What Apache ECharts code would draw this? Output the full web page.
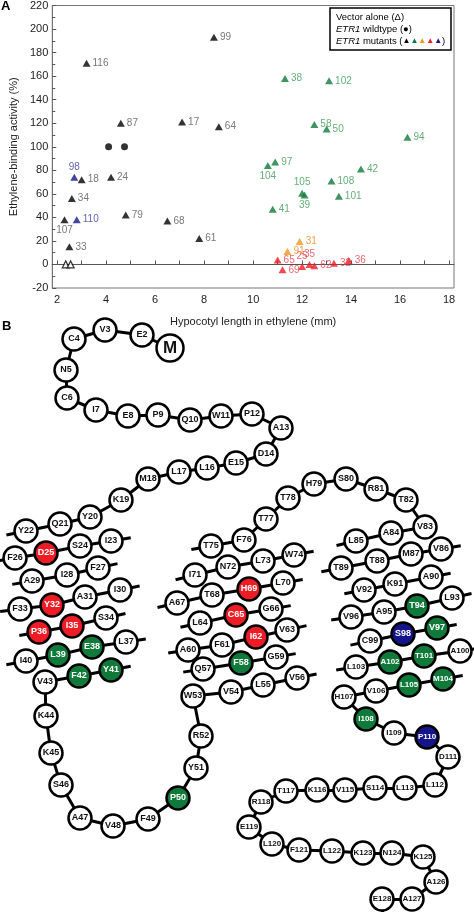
<!DOCTYPE html>
<html>
<head>
<meta charset="utf-8">
<script src="https://cdn.jsdelivr.net/npm/echarts@6/dist/echarts.min.js"></script>
<style>
  html, body { margin: 0; padding: 0; background: #fff; }
  #main { width: 474px; height: 912px; }
</style>
</head>
<body>
<div id="main"></div>
<script>
// ---- panel A data: [hypocotyl length, binding %, label, label position]
var blackPts = [[3.2,171,'116','right'],[8.4,193,'99','right'],[4.6,120,'87','right'],[7.1,121,'17','right'],
  [8.6,117,'64','right'],[3.0,72,'18','right'],[4.2,74,'24','right'],[2.6,56,'34','right'],[4.8,42,'79','right'],
  [6.5,37,'68','right'],[2.3,38,'107','bottom'],[7.8,22,'61','right'],[2.5,15,'33','right']];
var bluePts = [[2.7,74,'98','top'],[2.8,38,'110','right']];
var greenPts = [[11.3,158,'38','right'],[13.1,156,'102','right'],[12.5,119,'58','right'],[13.0,115,'50','right'],
  [16.3,108,'94','right'],[10.9,87,'97','right'],[10.6,84,'104','bottom'],[14.4,81,'42','right'],
  [13.2,71,'108','right'],[12.0,60.5,'105','top'],[12.1,59,'39','bottom'],[13.5,58,'101','right'],[10.8,47,'41','right']];
var orangePts = [[11.9,19.5,'31','right'],[11.4,11,'91','right']];
var redPts = [[11.0,3.7,'65','right'],[11.2,-4.5,'69','right'],[12.0,-1.7,'25','top'],[12.3,0,'35','top'],
  [12.5,-1,'62','right'],[13.3,1,'32','right'],[13.9,3.4,'36','right']];
var wildtypePts = [[4.1,100],[4.75,100]];
var vectorPts = [[2.35,0],[2.55,0]];

// ---- panel B data: ETR1 residues 1-128, positions in diagram units
var sequence = 'MEVCNCIEPQWPADELLMKYQYISDFFIAIAYFSIPLELIYFVKKSAVFPYRWVLVQFGAFIVLCGATHLINLWTFTTHSRTVALVMTTAKVLTAVVSCATALMLVHIIPDLLSVKTRELFLKNKAAE';
var resX = [170,142,105,74,66,67,96,128,158,190,221,252,281,266,236,207,179,148,121,90,60,26,111,80,46,15,98,67,32,120,
  85,52,20,106,72,39,126,92,58,26,111,79,45,46,51,61,80,113,148,178,196,201,193,231,263,297,203,241,276,188,
  222,256,287,200,236,271,177,212,249,283,195,228,263,294,211,244,266,288,314,346,376,406,425,391,356,441,411,377,341,431,
  395,364,452,417,384,351,437,403,370,460,424,390,356,443,409,376,344,366,394,427,448,435,405,375,345,317,286,261,249,272,
  299,332,363,392,423,436,412,382];
var resY = [348,335,330,339,370,398,410,416,415,420,416,414,428,454,463,468,472,479,500,517,524,531,541,546,553,558,568,575,581,590,
  597,605,609,618,626,632,642,647,655,661,670,676,682,716,753,785,818,826,819,798,768,736,696,692,685,678,669,663,657,650,
  645,637,630,623,615,609,603,595,589,583,575,567,561,555,546,540,519,498,484,479,489,500,527,533,541,549,554,561,568,577,
  584,590,598,606,612,617,628,634,641,651,656,662,667,679,685,691,697,719,733,737,757,785,788,788,790,790,791,802,827,844,
  850,851,853,853,857,882,899,899];
var redRes = [25,32,35,36,62,65,69];
var greenRes = [38,39,41,42,50,58,94,97,101,102,104,105,108];
var blueRes = [98,110];
// chain breaks between helix rows (chain passes behind the membrane face)
var breaks = [[22,23],[26,27],[29,30],[33,34],[36,37],[40,41],
  [56,57],[59,60],[63,64],[66,67],[70,71],[74,75],
  [85,86],[89,90],[92,93],[96,97],[99,100],[103,104]];
var tailEnd = [382,912];

var RED = '#ee1c24', GREEN = '#0f7a3a', BLUE = '#15158a', ORANGE = '#f7941d';

function pts(list, labelColor) {
  return list.map(function (p) {
    return { value: [p[0], p[1]], label: { show: true, formatter: p[2], position: p[3], distance: 2, color: labelColor } };
  });
}

// residues
var residues = [];
for (var i = 0; i < resX.length; i++) {
  var n = i + 1, fill = '#fff', tc = '#111';
  if (redRes.indexOf(n) >= 0) { fill = RED; tc = '#fff'; }
  if (greenRes.indexOf(n) >= 0) { fill = GREEN; tc = '#fff'; }
  if (blueRes.indexOf(n) >= 0) { fill = BLUE; tc = '#fff'; }
  var name = n === 1 ? 'M' : sequence[i] + n;
  residues.push({
    value: [resX[i], resY[i]],
    symbolSize: n === 1 ? 27 : 23,
    itemStyle: { color: fill },
    label: { formatter: name, color: tc, fontSize: n === 1 ? 17 : (n >= 100 ? 8 : 9) }
  });
}

// backbone links + stubs
var isBreak = function (a) { return breaks.some(function (b) { return b[0] === a; }); };
var links = [];
for (var i = 1; i < resX.length; i++) {
  if (!isBreak(i)) links.push({ coords: [[resX[i - 1], resY[i - 1]], [resX[i], resY[i]]] });
}
function stub(a, ref) {
  var dx = resX[a - 1] - resX[ref - 1], dy = resY[a - 1] - resY[ref - 1];
  var l = Math.sqrt(dx * dx + dy * dy);
  return { coords: [[resX[a - 1], resY[a - 1]], [resX[a - 1] + dx / l * 20, resY[a - 1] + dy / l * 20]] };
}
breaks.forEach(function (b) {
  links.push(stub(b[0], b[0] - 1));
  links.push(stub(b[1], b[1] + 1));
});
links.push({ coords: [[resX[127], resY[127]], tailEnd] });

var chart = echarts.init(document.getElementById('main'));
var tri = 'path://M0,10 L5,0 L10,10 Z';
var font = 'Liberation Sans, Arial, sans-serif';

chart.setOption({
  animation: false,
  textStyle: { fontFamily: font },
  grid: [
    { left: 38, right: 20, top: 4, height: 284, show: true, borderColor: '#777', borderWidth: 1 },
    { left: 0, right: 0, top: 320, bottom: 0 }
  ],
  xAxis: [
    { gridIndex: 0, type: 'value', min: 1.8, max: 18.2,
      name: 'Hypocotyl length in ethylene (mm)', nameLocation: 'middle', nameGap: 28,
      nameTextStyle: { fontSize: 11, color: '#222' },
      axisLine: { onZero: true, lineStyle: { color: '#555' } },
      axisTick: { inside: true, length: 4, customValues: [2,3,4,5,6,7,8,9,10,11,12,13,14,15,16,17,18], lineStyle: { color: '#555' } },
      axisLabel: { customValues: [2,4,6,8,10,12,14,16,18], fontSize: 11, color: '#222', margin: 6 },
      splitLine: { show: false } },
    { gridIndex: 1, type: 'value', min: 0, max: 474, show: false }
  ],
  yAxis: [
    { gridIndex: 0, type: 'value', min: -20, max: 220, interval: 20,
      name: 'Ethylene-binding activity (%)', nameLocation: 'middle', nameGap: 27, nameRotate: 90,
      nameTextStyle: { fontSize: 11, color: '#222' },
      axisLine: { show: true, lineStyle: { color: '#777' } },
      axisTick: { inside: true, length: 4, lineStyle: { color: '#555' } },
      minorTick: { show: true, splitNumber: 2, length: 3, lineStyle: { color: '#555' } },
      axisLabel: { fontSize: 11, color: '#222', margin: 4 },
      splitLine: { show: false } },
    { gridIndex: 1, type: 'value', min: 320, max: 912, inverse: true, show: false }
  ],
  series: [
    { type: 'scatter', xAxisIndex: 0, yAxisIndex: 0, symbol: tri, symbolSize: [8, 7],
      itemStyle: { color: '#000' }, label: { fontSize: 10 }, data: pts(blackPts, '#555') },
    { type: 'scatter', xAxisIndex: 0, yAxisIndex: 0, symbol: tri, symbolSize: [8, 7],
      itemStyle: { color: BLUE }, label: { fontSize: 10 }, data: pts(bluePts, '#3a3aa0') },
    { type: 'scatter', xAxisIndex: 0, yAxisIndex: 0, symbol: tri, symbolSize: [8, 7],
      itemStyle: { color: GREEN }, label: { fontSize: 10 }, data: pts(greenPts, '#3d9a55') },
    { type: 'scatter', xAxisIndex: 0, yAxisIndex: 0, symbol: tri, symbolSize: [8, 7],
      itemStyle: { color: ORANGE }, label: { fontSize: 10 }, data: pts(orangePts, '#f08a20') },
    { type: 'scatter', xAxisIndex: 0, yAxisIndex: 0, symbol: tri, symbolSize: [8, 7],
      itemStyle: { color: RED }, label: { fontSize: 10 }, data: pts(redPts, '#e8404a') },
    { type: 'scatter', xAxisIndex: 0, yAxisIndex: 0, symbol: 'circle', symbolSize: 7,
      itemStyle: { color: '#000' }, data: wildtypePts },
    { type: 'scatter', xAxisIndex: 0, yAxisIndex: 0, symbol: tri, symbolSize: [7, 7],
      itemStyle: { color: '#fff', borderColor: '#000', borderWidth: 1.2 }, data: vectorPts },
    { type: 'lines', coordinateSystem: 'cartesian2d', xAxisIndex: 1, yAxisIndex: 1, z: 1,
      lineStyle: { color: '#000', width: 3, opacity: 1 }, data: links },
    { type: 'scatter', xAxisIndex: 1, yAxisIndex: 1, z: 3, symbol: 'circle',
      itemStyle: { borderColor: '#000', borderWidth: 2.5, opacity: 1 },
      label: { show: true, position: 'inside', fontWeight: 'bold', fontFamily: font },
      data: residues }
  ],
  graphic: [
    { type: 'text', left: 1, top: 0, style: { text: 'A', font: 'bold 13px ' + font, fill: '#000' } },
    { type: 'text', left: 2, top: 320, style: { text: 'B', font: 'bold 13px ' + font, fill: '#000' } },
    { type: 'rect', shape: { x: 330, y: 8, width: 121, height: 42 }, style: { fill: '#fff', stroke: '#000', lineWidth: 1.5 }, z: 10 },
    { type: 'text', x: 336, y: 11, z: 11, style: {
        text: 'Vector alone (Δ)\n{i|ETR1} wildtype (●)\n{i|ETR1} mutants ({k|▲}{g|▲}{o|▲}{r|▲}{b|▲})',
        font: '9.5px ' + font, fill: '#000', lineHeight: 12,
        rich: { i: { fontStyle: 'italic', fontSize: 9.5 }, k: { fill: '#000', fontSize: 8 }, g: { fill: GREEN, fontSize: 8 },
                o: { fill: ORANGE, fontSize: 8 }, r: { fill: RED, fontSize: 8 }, b: { fill: BLUE, fontSize: 8 } } } }
  ]
});
</script>
</body>
</html>
